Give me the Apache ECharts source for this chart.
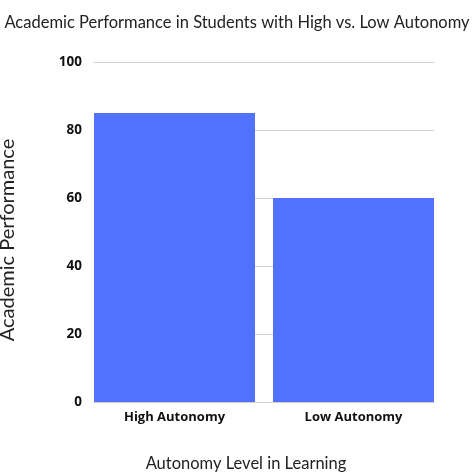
<!DOCTYPE html>
<html>
<head>
<meta charset="utf-8">
<script src="https://cdn.jsdelivr.net/npm/echarts@6/dist/echarts.min.js"></script>
<style>
  html, body { margin: 0; padding: 0; background: #fff; }
  #chart { width: 474px; height: 474px; }
</style>
</head>
<body>
<div id="chart"></div>
<script>
// categories and values
var categories = ['High Autonomy', 'Low Autonomy'];
var performance = [85, 60];
var yTicks = [0, 20, 40, 60, 80, 100];

var yMin = yTicks[0], yMax = yTicks[yTicks.length - 1], yStep = yTicks[1] - yTicks[0];

var chart = echarts.init(document.getElementById('chart'));
var option = {
    backgroundColor: '#ffffff',
    title: {
        text: 'Academic Performance in Students with High vs. Low Autonomy',
        left: 'center',
        top: 9,
        textStyle: { fontFamily: 'Lato', fontWeight: 'normal', fontSize: 16.5, color: '#222' }
    },
    // grid 0 holds the bars (bars sit flush with the gridline ends), grid 1 the gridlines
    grid: [
        { left: 85, right: 31, top: 62, bottom: 72, outerBoundsMode: 'none', containLabel: false },
        { left: 94, right: 40, top: 62, bottom: 72, outerBoundsMode: 'none', containLabel: false }
    ],
    xAxis: [{
        type: 'category',
        gridIndex: 0,
        data: categories,
        name: 'Autonomy Level in Learning',
        nameLocation: 'middle',
        nameGap: 53,
        nameTextStyle: { fontFamily: 'Lato', fontSize: 16.5, color: '#222', padding: [0, 36, 0, 0] },
        axisLine: { show: false },
        axisTick: { show: false },
        axisLabel: { fontFamily: 'Open Sans', fontWeight: 'bold', fontSize: 13, color: '#111', margin: 9 }
    }, {
        type: 'category',
        gridIndex: 1,
        data: categories,
        show: false
    }],
    yAxis: [{
        type: 'value',
        gridIndex: 0,
        min: yMin,
        max: yMax,
        interval: yStep,
        show: false,
        splitLine: { show: false }
    }, {
        type: 'value',
        gridIndex: 1,
        min: yMin,
        max: yMax,
        interval: yStep,
        name: 'Academic Performance',
        nameLocation: 'middle',
        nameGap: 76,
        nameTextStyle: { fontFamily: 'Lato', fontSize: 20, color: '#222', padding: [0, 0, 0, -16] },
        axisLine: { show: false },
        axisTick: { show: false },
        axisLabel: { fontFamily: 'Open Sans', fontWeight: 'bold', fontSize: 13.5, color: '#111', margin: 12 },
        splitLine: { lineStyle: { color: '#d0d0d0', width: 1 } }
    }],
    series: [{
        type: 'bar',
        xAxisIndex: 0,
        yAxisIndex: 0,
        data: performance,
        barCategoryGap: '10.06%',
        itemStyle: { color: '#5271ff' }
    }]
};
chart.setOption(option);
</script>
</body>
</html>
